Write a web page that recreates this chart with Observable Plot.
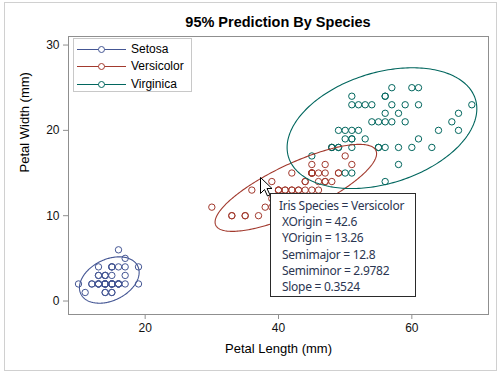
<!DOCTYPE html>
<html><head><meta charset="utf-8">
<script src="https://cdn.jsdelivr.net/npm/d3@7"></script>
<script src="https://cdn.jsdelivr.net/npm/@observablehq/plot@0.6"></script>
<style>
body{margin:0;background:#fff;font-family:"Liberation Sans",Arial,sans-serif;}
#wrap{position:relative;width:502px;height:377px;overflow:hidden;background:#fff;}
#border{position:absolute;left:4px;top:2px;width:493px;height:369px;border:1px solid #d0d0d0;box-sizing:border-box;}
#title{position:absolute;left:68px;width:420px;top:14px;line-height:17px;text-align:center;font-weight:bold;font-size:14.5px;color:#000;}
#chart{position:absolute;left:0;top:28px;}
#legend{position:absolute;left:73px;top:38px;width:119px;height:54px;border:1px solid #c8c8c8;box-sizing:border-box;background:#fff;}
.lrow{position:absolute;left:0;height:17px;font-size:12px;line-height:17px;color:#000;}
.lrow svg{position:absolute;left:3px;top:0;}
.lrow span{position:absolute;left:57px;top:0;white-space:nowrap;}
#tip{position:absolute;left:270px;top:193px;width:146px;height:104px;border:1px solid #2a2a2a;box-sizing:border-box;background:#fff;font-family:"Noto Sans","Open Sans",sans-serif;font-size:12px;letter-spacing:-0.28px;color:#2b3652;}
#tip div{position:absolute;white-space:nowrap;line-height:16px;}
#cursor{position:absolute;left:259px;top:176px;}
</style></head>
<body>
<div id="wrap">
  <div id="border"></div>
  <div id="title">95% Prediction By Species</div>
  <div id="chart"></div>
  <div id="legend"></div>
  <div id="tip"></div>
  <svg id="cursor" width="14" height="22"><path d="M1.5,1.5 L1.5,17.5 L5.5,13.5 L8.5,20 L11,19 L8,12.5 L13,12.5 Z" fill="#fff" stroke="#000" stroke-width="1" stroke-linejoin="miter"/></svg>
</div>
<script>
// ---- data (mm) ----
const species = ["Setosa", "Versicolor", "Virginica"];
const colors = ["#445694", "#A23A2E", "#01665E"];

const setosaLength = [14,14,13,15,14,17,14,15,14,15,15,16,14,11,12,15,13,14,17,15,17,15,10,17,19,16,16,15,14,16,16,15,15,14,15,12,13,14,13,15,13,13,13,16,19,14,16,14,15,14];
const setosaWidth  = [2,2,2,2,2,4,3,2,2,1,2,2,1,1,2,4,4,3,3,3,2,4,2,5,2,2,4,2,2,2,2,4,1,2,2,2,2,1,2,2,3,3,2,6,4,3,2,2,2,2];
const versicolorLength = [47,45,49,40,46,45,47,33,46,39,35,42,40,47,36,44,45,41,45,39,48,40,49,47,43,44,48,50,45,35,38,37,39,51,45,45,47,44,41,40,44,46,40,33,42,42,42,43,30,41];
const versicolorWidth  = [14,15,15,13,15,13,16,10,13,14,10,15,10,14,13,14,15,10,15,11,18,13,15,12,13,14,14,17,15,10,11,10,12,16,15,16,15,13,13,13,12,14,12,10,13,12,13,13,11,13];
const virginicaLength = [60,51,59,56,58,66,45,63,58,61,51,53,55,50,51,53,55,67,69,50,57,49,67,49,57,60,48,49,56,58,61,64,56,51,56,61,56,55,48,54,56,51,51,59,57,52,50,52,54,51];
const virginicaWidth  = [25,19,21,18,22,21,17,18,18,25,20,19,21,20,24,23,18,22,23,15,23,20,20,18,21,18,18,18,21,16,19,20,22,15,14,23,24,18,18,21,24,23,19,23,25,23,19,20,23,18];

// 95% prediction ellipse parameters per species
const xOrigin   = [14.62, 42.6, 55.52];
const yOrigin   = [2.46, 13.26, 20.26];
const semimajor = [4.606, 12.8, 14.458];
const semiminor = [2.491, 2.9782, 6.596];
const slope     = [0.2915, 0.3524, 0.2034];

const xTicks = [20, 40, 60];
const yTicks = [0, 10, 20, 30];
const xLabel = "Petal Length (mm)";
const yLabel = "Petal Width (mm)";

const tipLines = ["Iris Species = Versicolor", "XOrigin = 42.6", "YOrigin = 13.26", "Semimajor = 12.8", "Semiminor = 2.9782", "Slope = 0.3524"];

// ---- build tables ----
const lengths = [setosaLength, versicolorLength, virginicaLength];
const widths = [setosaWidth, versicolorWidth, virginicaWidth];
const points = [];
species.forEach((s, i) => lengths[i].forEach((L, j) => points.push({species: s, length: L, width: widths[i][j]})));

const ellipse = [];
species.forEach((s, i) => {
  const phi = Math.atan(slope[i]), c = Math.cos(phi), sn = Math.sin(phi);
  for (let k = 0; k <= 240; k++) {
    const t = 2 * Math.PI * k / 240;
    const u = semimajor[i] * Math.cos(t), v = semiminor[i] * Math.sin(t);
    ellipse.push({species: s, x: xOrigin[i] + u * c - v * sn, y: yOrigin[i] + u * sn + v * c});
  }
});

const plot = Plot.plot({
  width: 502, height: 349,
  marginLeft: 68, marginRight: 14, marginTop: 8, marginBottom: 63,
  style: {fontFamily: '"Liberation Sans", Arial, sans-serif', background: "transparent", color: "#000"},
  x: {domain: [8.5, 71.5]},
  y: {domain: [-1.58, 31.0]},
  color: {domain: species, range: colors},
  marks: [
    Plot.frame({stroke: "#8f8f8f"}),
    Plot.axisX({ticks: xTicks, tickSize: 5, tickPadding: 4, fontSize: 12, label: null, stroke: "#8f8f8f", fill: "#111"}),
    Plot.axisY({ticks: yTicks, tickSize: 5, tickPadding: 4, fontSize: 12, label: null, stroke: "#8f8f8f", fill: "#111"}),
    Plot.text([xLabel], {frameAnchor: "bottom", dy: 38, text: d => d, fontSize: 13, fill: "#000"}),
    Plot.text([yLabel], {frameAnchor: "left", dx: -44, dy: -3, rotate: -90, text: d => d, fontSize: 13, fill: "#000"}),
    Plot.dot(points, {x: "length", y: "width", stroke: "species", r: 3.2, strokeWidth: 1, fill: "none"}),
    Plot.line(ellipse, {x: "x", y: "y", z: "species", stroke: "species", strokeWidth: 1.1, curve: "linear"})
  ]
});
document.getElementById("chart").appendChild(plot);

// legend
const legend = document.getElementById("legend");
species.forEach((s, i) => {
  const row = document.createElement("div");
  row.className = "lrow";
  row.style.top = (2 + i * 17.3) + "px";
  row.style.width = "117px";
  row.innerHTML = `<svg width="50" height="17"><line x1="0" x2="49" y1="8.5" y2="8.5" stroke="${colors[i]}" stroke-width="1.2"/><circle cx="24.5" cy="8.5" r="3" fill="#fff" stroke="${colors[i]}" stroke-width="1"/></svg><span>${s}</span>`;
  legend.appendChild(row);
});

// tooltip
const tip = document.getElementById("tip");
tipLines.forEach((t, i) => {
  const d = document.createElement("div");
  d.textContent = t;
  d.style.left = (i === 0 ? 8 : 11) + "px";
  d.style.top = (4 + i * 16.2) + "px";
  tip.appendChild(d);
});
</script>
</body></html>
